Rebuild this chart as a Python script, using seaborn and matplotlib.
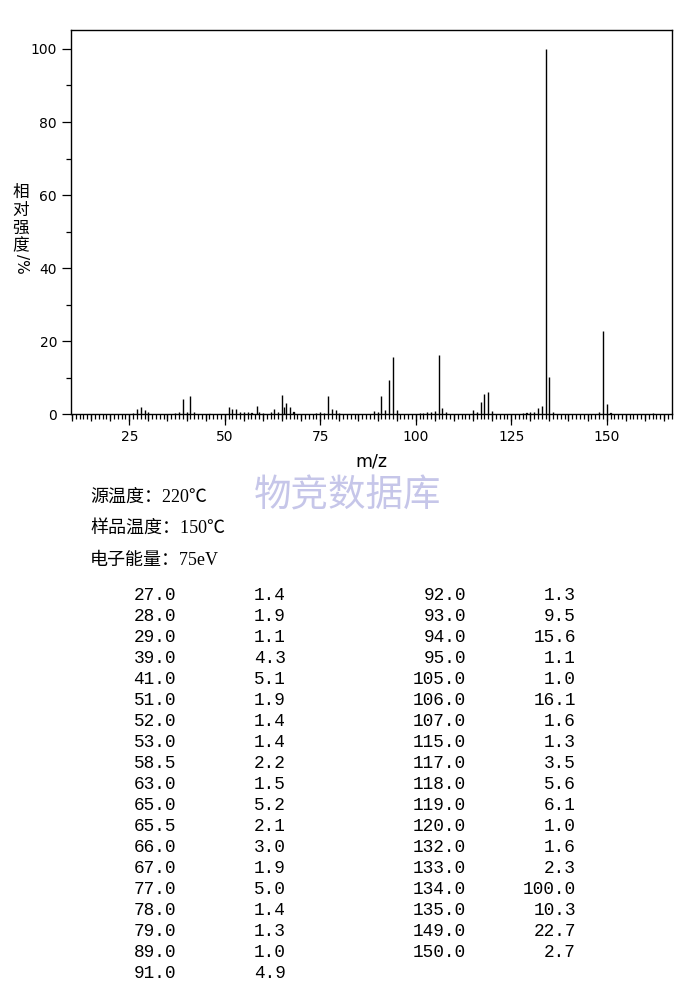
"""
Mass spectrum recreation (seaborn).
"""

import numpy as np
import pandas as pd
import seaborn as sns
from matplotlib import pyplot as plt
from matplotlib.ticker import MultipleLocator, NullFormatter

#############################################################

# Peaks listed in the table (m/z, relative intensity %).
mz_major = [27.0, 28.0, 29.0, 39.0, 41.0, 51.0, 52.0, 53.0, 58.5, 63.0,
            65.0, 65.5, 66.0, 67.0, 77.0, 78.0, 79.0, 89.0, 91.0,
            92.0, 93.0, 94.0, 95.0, 105.0, 106.0, 107.0, 115.0, 117.0,
            118.0, 119.0, 120.0, 132.0, 133.0, 134.0, 135.0, 149.0, 150.0]
int_major = [1.4, 1.9, 1.1, 4.3, 5.1, 1.9, 1.4, 1.4, 2.2, 1.5,
             5.2, 2.1, 3.0, 1.9, 5.0, 1.4, 1.3, 1.0, 4.9,
             1.3, 9.5, 15.6, 1.1, 1.0, 16.1, 1.6, 1.3, 3.5,
             5.6, 6.1, 1.0, 1.6, 2.3, 100.0, 10.3, 22.7, 2.7]

# Small peaks visible in the spectrum but not listed (estimated).
mz_minor = [26, 30, 37, 38, 40, 42, 43, 45, 46, 54, 55, 56, 57, 59, 60, 62,
            64, 68, 74, 75, 76, 80, 81, 90, 101, 102, 103, 104, 108, 116,
            128, 129, 130, 131, 136, 148, 151, 162]
int_minor = [0.4, 0.5, 0.3, 0.5, 0.5, 0.7, 0.2, 0.2, 0.2, 0.7, 0.7, 0.7, 0.4,
             0.5, 0.3, 0.5, 0.7, 0.5, 0.4, 0.5, 0.4, 0.3, 0.2, 0.5, 0.3, 0.3,
             0.5, 0.5, 0.5, 0.7, 0.3, 0.3, 0.7, 0.5, 0.5, 0.5, 0.3, 0.3]

info_lines = ["源温度：220℃", "样品温度：150℃", "电子能量：75eV"]
watermark = "物竞数据库"

#############################################################

sns.set_theme(style="ticks")
plt.rcParams['font.family'] = ['DejaVu Sans', 'Noto Sans CJK SC']

W, H = 696, 992
fig = plt.figure(figsize=(W / 100, H / 100), dpi=100)


def fx(x):
    return x / W


def fy(y):
    return 1 - y / H


ax = fig.add_axes([fx(71), fy(414.3), fx(672 - 71), (414.3 - 30.3) / H])

spectrum = pd.DataFrame({"mz": mz_major + mz_minor,
                         "intensity": int_major + int_minor})
# near-zero-width bars: only the edge stroke shows, giving even stick lines
sns.barplot(data=spectrum, x="mz", y="intensity", native_scale=True,
            color="black", edgecolor="black", linewidth=1.0,
            errorbar=None, width=0.02, saturation=1, ax=ax)

ax.set_xlim(9.74, 167.1)
ax.set_ylim(0, 105.1)
ax.set_xlabel("")
ax.set_ylabel("")

for side in ["left", "right", "top", "bottom"]:
    ax.spines[side].set_visible(True)
    ax.spines[side].set_linewidth(1.0)
    ax.spines[side].set_color("black")

ax.xaxis.set_major_locator(MultipleLocator(25))
ax.xaxis.set_minor_locator(MultipleLocator(1))
ax.yaxis.set_major_locator(MultipleLocator(20))
ax.yaxis.set_minor_locator(MultipleLocator(10))
ax.tick_params(axis="x", which="major", length=7.7, width=0.9, pad=3.5,
               labelsize=10, colors="black", direction="out")
ax.tick_params(axis="x", which="minor", length=3.4, width=0.9,
               colors="black", direction="out")
ax.tick_params(axis="y", which="major", length=6.5, width=0.9, pad=3.5,
               labelsize=10, colors="black", direction="out")
ax.tick_params(axis="y", which="minor", length=3.6, width=0.9,
               colors="black", direction="out")
ax.tick_params(top=False, right=False, which="both")

# Medium ticks every 5 units.
sec = ax.secondary_xaxis("bottom")
sec.set_xticks(np.arange(10, 170, 5))
sec.xaxis.set_major_formatter(NullFormatter())
sec.tick_params(length=5.3, width=0.9, colors="black", direction="out")
sec.spines["bottom"].set_visible(False)

# Axis labels.
fig.text(fx(371.5), fy(462), "m/z", ha="center", va="center",
         fontsize=12.5, color="black")
fig.text(fx(21), fy(219), "相\n对\n强\n度", ha="center", va="center",
         fontsize=12, linespacing=1.05, color="black",
         family=['Noto Sans CJK SC'])
fig.text(fx(21), fy(264), "/%", ha="center", va="center", rotation=-90,
         fontsize=11, color="black")

# Watermark.
fig.text(fx(348), fy(496), watermark, ha="center", va="center",
         fontsize=27, color="#c6c6e9", family=['Noto Sans CJK SC'])

# Experiment info.
for i, line in enumerate(info_lines):
    fig.text(fx(90), fy(497 + 31.5 * i), line, ha="left", va="center",
             fontsize=13, color="black",
             family=['Liberation Serif', 'Noto Sans CJK SC'])

# Peak table.
n_left = 19
row0, step = 596, 20.95
mono = ['Liberation Mono', 'DejaVu Sans Mono']
for i, (m, v) in enumerate(zip(mz_major, int_major)):
    if i < n_left:
        r, xm, xv = i, 176, 286
    else:
        r, xm, xv = i - n_left, 466, 576
    y = fy(row0 + step * r)
    fig.text(fx(xm), y, f"{m:.1f}", ha="right", va="center",
             fontsize=12.8, family=mono, color="black")
    fig.text(fx(xv), y, f"{v:.1f}", ha="right", va="center",
             fontsize=12.8, family=mono, color="black")

fig.savefig("out.png", dpi=100, facecolor="white")
